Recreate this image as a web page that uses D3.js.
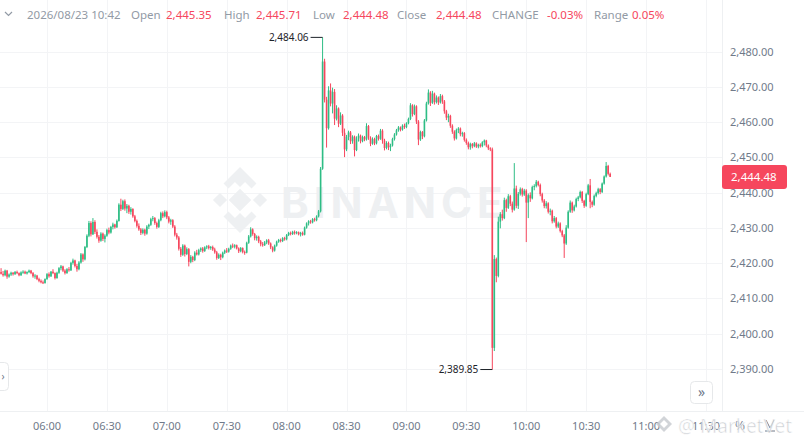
<!DOCTYPE html>
<html><head><meta charset="utf-8">
<script src="https://cdn.jsdelivr.net/npm/d3@7"></script>
<style>
html,body{margin:0;padding:0;background:#fff;}
svg{display:block;font-family:"Noto Sans",Inter,sans-serif;}
</style></head><body>
<svg id="chart" width="804" height="442"></svg>
<script>
// ---------- data ----------
const chartDate = "2026-08-23";
const firstCandle = "05:37";           // 1-minute candles
// [open, high, low, close]
const candles = [
[2417.5,2418.6,2416.8,2417.0],[2417.0,2417.8,2416.2,2416.6],[2416.6,2418.2,2416.3,2417.9],[2417.9,2418.1,2415.6,2416.2],
[2416.2,2417.1,2415.9,2416.8],[2416.8,2417.6,2416.4,2417.3],[2417.3,2417.5,2416.5,2416.9],[2416.9,2417.8,2416.7,2417.5],
[2417.5,2417.9,2416.9,2417.2],[2417.2,2417.4,2416.3,2416.6],[2416.6,2417.7,2416.4,2417.4],[2417.4,2418.0,2417.0,2417.6],
[2417.6,2417.9,2416.9,2417.1],[2417.1,2417.7,2416.8,2417.5],[2417.5,2418.2,2417.2,2417.9],[2417.9,2418.1,2416.9,2417.2],
[2417.2,2417.5,2415.9,2416.3],[2416.3,2416.9,2415.6,2416.5],[2416.5,2416.7,2415.2,2415.5],[2415.5,2415.9,2414.6,2415.0],
[2415.0,2415.4,2414.3,2414.6],[2414.6,2415.1,2414.1,2414.4],[2414.4,2415.7,2414.2,2415.5],[2415.5,2417.2,2415.3,2416.9],
[2416.9,2417.4,2415.9,2416.3],[2416.3,2417.8,2416.1,2417.6],[2417.6,2418.3,2416.9,2417.2],[2417.2,2417.4,2415.4,2415.8],
[2415.8,2417.6,2415.6,2417.3],[2417.3,2418.9,2417.0,2418.6],[2418.6,2419.5,2418.0,2419.1],[2419.1,2419.3,2417.5,2417.9],
[2417.9,2418.3,2416.8,2417.2],[2417.2,2418.6,2417.0,2418.3],[2418.3,2418.9,2417.6,2418.0],[2418.0,2420.4,2417.8,2420.1],
[2420.1,2421.3,2419.6,2420.8],[2420.8,2421.0,2418.8,2419.2],[2419.2,2419.8,2417.6,2418.3],[2418.3,2420.6,2418.0,2420.2],
[2420.2,2422.9,2419.9,2422.5],[2422.5,2422.8,2420.4,2421.1],[2421.1,2424.9,2420.8,2424.6],[2424.6,2428.2,2424.3,2427.8],
[2427.8,2432.0,2427.4,2431.4],[2431.4,2431.9,2427.6,2428.2],[2428.2,2432.8,2428.0,2431.7],[2431.7,2432.2,2428.3,2428.9],
[2428.9,2429.6,2427.0,2427.5],[2427.5,2428.0,2425.8,2426.4],[2426.4,2428.8,2426.1,2428.4],[2428.4,2428.7,2426.3,2426.9],
[2426.9,2428.2,2425.9,2427.8],[2427.8,2429.8,2427.5,2429.4],[2429.4,2430.1,2428.2,2428.7],[2428.7,2430.6,2428.4,2430.3],
[2430.3,2431.5,2429.6,2431.0],[2431.0,2431.2,2429.8,2430.2],[2430.2,2432.4,2430.0,2432.0],[2432.0,2437.0,2431.8,2436.6],
[2436.6,2438.3,2434.8,2435.4],[2435.4,2438.0,2435.1,2437.6],[2437.6,2438.1,2434.9,2435.5],[2435.5,2436.8,2434.2,2436.3],
[2436.3,2436.6,2434.0,2434.6],[2434.6,2435.9,2433.8,2435.4],[2435.4,2435.6,2432.9,2433.3],[2433.3,2433.7,2431.6,2432.0],
[2432.0,2432.4,2430.1,2430.6],[2430.6,2431.3,2429.2,2429.6],[2429.6,2430.0,2428.0,2428.6],[2428.6,2429.9,2428.2,2429.5],
[2429.5,2429.8,2427.8,2428.4],[2428.4,2430.8,2428.1,2430.4],[2430.4,2431.2,2429.7,2430.9],[2430.9,2432.9,2430.6,2432.5],
[2432.5,2433.4,2431.9,2432.8],[2432.8,2433.1,2430.9,2431.4],[2431.4,2431.8,2429.8,2430.3],[2430.3,2432.6,2430.0,2432.2],
[2432.2,2434.6,2431.9,2434.2],[2434.2,2434.7,2432.8,2433.3],[2433.3,2435.0,2433.0,2434.5],[2434.5,2434.9,2432.5,2433.0],
[2433.0,2433.4,2431.3,2431.8],[2431.8,2432.6,2430.9,2432.2],[2432.2,2432.5,2430.0,2430.4],[2430.4,2430.8,2427.6,2428.1],
[2428.1,2428.6,2426.7,2427.3],[2427.3,2427.7,2423.6,2424.1],[2424.1,2424.6,2421.8,2422.4],[2422.4,2425.4,2422.1,2425.0],
[2425.0,2425.3,2421.9,2422.6],[2422.6,2424.5,2422.3,2424.0],[2424.0,2424.3,2419.1,2420.4],[2420.4,2422.3,2420.0,2421.8],
[2421.8,2422.1,2420.3,2420.9],[2420.9,2423.4,2420.6,2423.0],[2423.0,2423.8,2422.2,2422.5],[2422.5,2424.1,2422.2,2423.7],
[2423.7,2424.5,2423.2,2424.2],[2424.2,2424.6,2423.0,2423.5],[2423.5,2424.8,2423.2,2424.5],[2424.5,2425.1,2424.0,2424.8],
[2424.8,2425.2,2423.9,2424.3],[2424.3,2424.9,2423.8,2424.6],[2424.6,2425.0,2423.5,2423.9],[2423.9,2424.4,2422.7,2423.1],
[2423.1,2423.5,2421.0,2421.5],[2421.5,2422.8,2421.2,2422.4],[2422.4,2422.7,2420.9,2421.7],[2421.7,2423.3,2421.4,2423.0],
[2423.0,2423.9,2422.6,2423.6],[2423.6,2424.3,2422.9,2423.3],[2423.3,2424.4,2423.0,2424.1],[2424.1,2425.3,2423.8,2425.0],
[2425.0,2425.6,2424.3,2424.7],[2424.7,2425.4,2424.2,2425.1],[2425.1,2425.3,2423.9,2424.2],[2424.2,2424.5,2422.9,2423.4],
[2423.4,2424.6,2423.1,2424.3],[2424.3,2424.5,2422.8,2423.2],[2423.2,2423.6,2422.4,2423.0],[2423.0,2426.1,2422.8,2425.8],
[2425.8,2428.0,2425.5,2427.6],[2427.6,2430.2,2427.3,2429.6],[2429.6,2429.9,2427.8,2428.3],[2428.3,2428.6,2426.5,2427.1],
[2427.1,2427.9,2426.4,2427.5],[2427.5,2427.8,2425.7,2426.2],[2426.2,2426.6,2424.8,2425.4],[2425.4,2426.0,2424.7,2425.1],
[2425.1,2426.3,2424.9,2425.9],[2425.9,2426.8,2425.4,2426.5],[2426.5,2426.9,2425.2,2425.6],[2425.6,2425.9,2424.0,2424.5],
[2424.5,2424.8,2423.1,2423.6],[2423.6,2425.3,2423.3,2425.0],[2425.0,2426.4,2424.7,2426.1],[2426.1,2426.9,2425.8,2426.6],
[2426.6,2427.0,2425.9,2426.3],[2426.3,2427.4,2426.0,2427.1],[2427.1,2427.5,2426.4,2426.8],[2426.8,2428.3,2426.5,2428.0],
[2428.0,2428.9,2427.7,2428.6],[2428.6,2429.0,2427.9,2428.3],[2428.3,2429.2,2428.0,2428.9],[2428.9,2429.3,2428.1,2428.5],
[2428.5,2429.1,2428.2,2428.8],[2428.8,2429.0,2427.9,2428.2],[2428.2,2428.9,2427.6,2428.6],[2428.6,2429.0,2427.8,2428.1],
[2428.1,2430.4,2427.9,2430.1],[2430.1,2431.6,2429.8,2431.3],[2431.3,2432.2,2430.7,2431.9],[2431.9,2432.3,2431.2,2431.6],
[2431.6,2432.8,2431.3,2432.5],[2432.5,2432.9,2431.8,2432.2],[2432.2,2433.6,2431.9,2433.3],[2433.3,2435.1,2433.0,2434.7],
[2434.7,2447.3,2434.4,2446.8],[2446.8,2484.06,2446.5,2477.2],[2477.2,2478.0,2465.6,2466.4],[2466.4,2467.2,2452.8,2458.3],
[2458.3,2470.2,2457.9,2469.0],[2469.0,2471.0,2464.5,2465.3],[2465.3,2469.8,2462.5,2468.6],[2468.6,2469.4,2459.2,2461.0],
[2461.0,2464.8,2460.5,2463.9],[2463.9,2464.2,2458.6,2459.6],[2459.6,2462.8,2459.2,2461.9],[2461.9,2462.3,2456.1,2457.0],
[2457.0,2458.2,2450.1,2452.3],[2452.3,2456.4,2451.8,2455.8],[2455.8,2457.6,2454.9,2457.1],[2457.1,2457.5,2453.8,2454.6],
[2454.6,2456.3,2453.9,2455.9],[2455.9,2456.2,2450.3,2452.1],[2452.1,2456.0,2451.8,2455.4],[2455.4,2456.8,2454.5,2456.2],
[2456.2,2456.5,2454.0,2454.6],[2454.6,2456.2,2454.3,2455.8],[2455.8,2456.1,2454.6,2455.1],[2455.1,2459.7,2454.8,2458.9],
[2458.9,2459.2,2455.0,2455.6],[2455.6,2456.0,2453.2,2453.9],[2453.9,2455.7,2453.6,2455.2],[2455.2,2455.6,2453.5,2454.0],
[2454.0,2456.4,2453.7,2456.1],[2456.1,2456.5,2454.8,2455.3],[2455.3,2458.1,2455.0,2457.6],[2457.6,2458.0,2453.9,2454.8],
[2454.8,2455.3,2452.0,2452.7],[2452.7,2454.6,2452.3,2454.1],[2454.1,2454.5,2452.1,2452.9],[2452.9,2453.9,2451.8,2453.4],
[2453.4,2455.6,2453.1,2455.2],[2455.2,2456.9,2454.8,2456.5],[2456.5,2458.1,2456.2,2457.7],[2457.7,2458.9,2457.3,2458.5],
[2458.5,2458.8,2457.4,2457.9],[2457.9,2459.4,2457.6,2459.0],[2459.0,2459.6,2458.1,2458.6],[2458.6,2460.0,2458.3,2459.7],
[2459.7,2461.3,2459.4,2460.9],[2460.9,2465.4,2460.6,2464.8],[2464.8,2465.1,2461.6,2462.3],[2462.3,2465.0,2462.0,2464.5],
[2464.5,2464.8,2459.5,2460.2],[2460.2,2460.6,2453.5,2455.1],[2455.1,2457.6,2454.7,2457.2],[2457.2,2457.5,2455.2,2456.0],
[2456.0,2460.9,2455.7,2460.5],[2460.5,2465.8,2460.2,2465.3],[2465.3,2469.3,2465.0,2468.4],[2468.4,2468.8,2464.6,2465.5],
[2465.5,2468.9,2465.2,2468.1],[2468.1,2468.4,2465.0,2465.7],[2465.7,2467.6,2465.3,2467.0],[2467.0,2467.3,2464.9,2465.6],
[2465.6,2468.0,2465.3,2467.4],[2467.4,2467.8,2465.2,2465.9],[2465.9,2466.3,2462.4,2463.1],[2463.1,2463.5,2460.6,2461.3],
[2461.3,2462.4,2460.0,2461.8],[2461.8,2462.1,2458.4,2459.0],[2459.0,2459.4,2456.7,2457.3],[2457.3,2457.7,2454.8,2455.4],
[2455.4,2458.2,2455.1,2457.8],[2457.8,2458.6,2456.9,2458.2],[2458.2,2458.5,2456.0,2456.6],[2456.6,2457.3,2455.9,2456.9],
[2456.9,2457.2,2454.5,2455.0],[2455.0,2455.4,2453.6,2454.1],[2454.1,2454.5,2452.3,2452.9],[2452.9,2454.2,2452.2,2453.8],
[2453.8,2454.1,2452.6,2453.2],[2453.2,2454.4,2452.9,2454.0],[2454.0,2454.3,2452.7,2453.1],[2453.1,2453.9,2452.6,2453.6],
[2453.6,2454.0,2452.8,2453.2],[2453.2,2454.6,2452.9,2454.3],[2454.3,2455.1,2453.4,2454.8],[2454.8,2455.0,2452.9,2453.4],
[2453.4,2453.7,2452.1,2452.6],[2452.6,2452.9,2451.8,2452.3],[2452.3,2452.8,2389.85,2396.0],[2396.0,2422.3,2395.1,2421.2],
[2421.2,2421.6,2414.6,2416.4],[2416.4,2433.2,2416.0,2431.8],[2431.8,2434.5,2429.9,2433.9],[2433.9,2435.2,2432.1,2432.8],
[2432.8,2438.6,2432.5,2437.9],[2437.9,2438.3,2434.6,2435.7],[2435.7,2439.6,2435.4,2439.0],[2439.0,2439.4,2436.2,2436.9],
[2436.9,2437.5,2434.4,2435.2],[2435.2,2448.4,2434.9,2441.2],[2441.2,2442.0,2435.6,2436.3],[2436.3,2440.2,2435.4,2439.7],
[2439.7,2441.5,2439.2,2441.0],[2441.0,2441.4,2438.9,2439.5],[2439.5,2441.1,2439.1,2440.6],[2440.6,2441.0,2426.0,2437.2],
[2437.2,2439.8,2432.8,2439.3],[2439.3,2440.1,2437.4,2438.4],[2438.4,2442.0,2438.1,2441.6],[2441.6,2442.4,2440.7,2441.9],
[2441.9,2443.6,2441.5,2443.1],[2443.1,2443.4,2441.8,2442.2],[2442.2,2442.6,2439.0,2439.6],[2439.6,2440.0,2437.2,2437.8],
[2437.8,2438.2,2435.6,2436.2],[2436.2,2437.6,2435.5,2437.0],[2437.0,2437.3,2434.1,2434.6],[2434.6,2435.5,2433.6,2434.9],
[2434.9,2435.2,2431.3,2431.9],[2431.9,2433.4,2431.5,2432.8],[2432.8,2433.1,2429.9,2430.4],[2430.4,2431.8,2430.0,2431.3],
[2431.3,2431.6,2428.7,2429.1],[2429.1,2429.5,2427.4,2427.9],[2427.9,2428.3,2421.5,2425.6],[2425.6,2430.8,2425.2,2430.1],
[2430.1,2435.0,2429.8,2434.6],[2434.6,2437.8,2434.3,2437.2],[2437.2,2437.5,2434.3,2435.0],[2435.0,2436.6,2434.7,2436.1],
[2436.1,2438.6,2435.8,2438.2],[2438.2,2439.1,2437.6,2438.7],[2438.7,2440.6,2438.4,2440.2],[2440.2,2440.5,2437.1,2437.7],
[2437.7,2438.0,2435.7,2436.3],[2436.3,2440.0,2436.0,2439.6],[2439.6,2442.5,2439.3,2442.1],[2442.1,2443.9,2435.6,2437.4],
[2437.4,2437.8,2435.9,2436.6],[2436.6,2439.5,2436.3,2439.1],[2439.1,2440.3,2438.7,2439.9],[2439.9,2441.4,2439.5,2441.0],
[2441.0,2441.3,2439.6,2440.2],[2440.2,2442.9,2439.9,2442.6],[2442.6,2444.9,2442.3,2444.6],[2444.6,2448.7,2444.3,2447.6],
[2447.6,2447.9,2444.9,2445.35],[2445.35,2445.71,2444.48,2444.48]
];
const priceTicks = [2390, 2400, 2410, 2420, 2430, 2440, 2450, 2460, 2470, 2480];
const timeTicks = ["06:00","06:30","07:00","07:30","08:00","08:30","09:00","09:30","10:00","10:30","11:00","11:30"];
const headerDate = "2026/08/23 10:42";
const headerLabels = ["Open","High","Low","Close","CHANGE","Range"];
const headerValues = ["2,445.35","2,445.71","2,444.48","2,444.48","-0.03%","0.05%"];
const lastPrice = 2444.48;

// ---------- layout ----------
const W = 804, H = 442, plotRight = 722, plotBottom = 411;
const UP = "#2EBD85", DOWN = "#F6465D", GRID = "#F3F4F6", AXIS = "#707A8A";
const svg = d3.select("#chart");
const parse = d3.timeParse("%Y-%m-%d %H:%M");
const t0 = parse(chartDate + " " + firstCandle);

const x = d3.scaleTime()
  .domain([parse(chartDate + " 06:00"), parse(chartDate + " 11:30")])
  .range([47, 706]);
const y = d3.scaleLinear().domain([2390, 2480]).range([369, 51.7]);

const fmt = d3.format(",.2f");

// grid
const grid = svg.append("g");
grid.selectAll("line.h").data(priceTicks).join("line")
  .attr("x1", 0).attr("x2", plotRight)
  .attr("y1", d => Math.round(y(d)) + 0.5).attr("y2", d => Math.round(y(d)) + 0.5)
  .attr("stroke", GRID);
grid.selectAll("line.v").data(timeTicks).join("line")
  .attr("x1", d => Math.round(x(parse(chartDate + " " + d))) + 0.5)
  .attr("x2", d => Math.round(x(parse(chartDate + " " + d))) + 0.5)
  .attr("y1", 0).attr("y2", plotBottom)
  .attr("stroke", GRID);

// Binance watermark
const wm = svg.append("g").attr("fill", "#EEF0F2");
const lc = [240, 200];
[[0,0,8],[-20,0,5],[20,0,5],[0,-20,5],[0,20,5]].forEach(([dx,dy,s]) => {
  wm.append("rect").attr("x", lc[0]+dx-s).attr("y", lc[1]+dy-s).attr("width", 2*s).attr("height", 2*s)
    .attr("transform", `rotate(45 ${lc[0]+dx} ${lc[1]+dy})`);
});
wm.append("path").attr("fill","none").attr("stroke","#EEF0F2").attr("stroke-width",7)
  .attr("d", `M${lc[0]-14},${lc[1]-14} L${lc[0]},${lc[1]-28} L${lc[0]+14},${lc[1]-14} M${lc[0]-14},${lc[1]+14} L${lc[0]},${lc[1]+28} L${lc[0]+14},${lc[1]+14}`);
wm.append("text").attr("x", 281).attr("y", 218).attr("font-size", 42).attr("font-weight", 700)
  .attr("letter-spacing", 5).attr("font-family", "Inter, 'Noto Sans', sans-serif").text("BINANCE");

// candles
const cg = svg.append("g");
const cw = 1.6;
const cs = cg.selectAll("g").data(candles).join("g")
  .attr("transform", (d, i) => `translate(${x(d3.timeMinute.offset(t0, i))},0)`);
cs.append("line")
  .attr("y1", d => y(d[1])).attr("y2", d => y(d[2]))
  .attr("stroke", d => d[3] >= d[0] ? UP : DOWN).attr("stroke-width", 1);
cs.append("rect")
  .attr("x", -cw / 2).attr("width", cw)
  .attr("y", d => y(Math.max(d[0], d[3])))
  .attr("height", d => Math.max(1, Math.abs(y(d[0]) - y(d[3]))))
  .attr("fill", d => d[3] >= d[0] ? UP : DOWN);

// high / low markers
const hiI = d3.maxIndex(candles, d => d[1]);
const loI = d3.minIndex(candles, d => d[2]);
[[hiI, candles[hiI][1]], [loI, candles[loI][2]]].forEach(([i, v]) => {
  const cx = x(d3.timeMinute.offset(t0, i));
  svg.append("line").attr("x1", cx - 12).attr("x2", cx).attr("y1", y(v)).attr("y2", y(v))
    .attr("stroke", "#1E2329").attr("stroke-width", 1);
  svg.append("text").attr("x", cx - 14).attr("y", y(v) + 3.5).attr("text-anchor", "end")
    .attr("font-size", 10).attr("fill", "#1E2329").text(fmt(v));
});

// right axis
svg.append("line").attr("x1", plotRight + 0.5).attr("x2", plotRight + 0.5).attr("y1", 0).attr("y2", plotBottom)
  .attr("stroke", "#EEF0F2");
svg.append("g").selectAll("text").data(priceTicks).join("text")
  .attr("x", 730).attr("y", d => y(d) + 4).attr("font-size", 11).attr("fill", AXIS)
  .text(d => fmt(d));

// last price tag
svg.append("rect").attr("x", plotRight).attr("y", y(lastPrice) - 12).attr("width", 65).attr("height", 24)
  .attr("rx", 3).attr("fill", DOWN);
svg.append("text").attr("x", 731).attr("y", y(lastPrice) + 4).attr("font-size", 11.5).attr("fill", "#fff")
  .text(fmt(lastPrice));

// bottom axis
svg.append("line").attr("x1", 0).attr("x2", W).attr("y1", plotBottom + 0.5).attr("y2", plotBottom + 0.5)
  .attr("stroke", "#EEF0F2");
svg.append("g").selectAll("text").data(timeTicks).join("text")
  .attr("x", d => x(parse(chartDate + " " + d))).attr("y", 430).attr("text-anchor", "middle")
  .attr("font-size", 11).attr("fill", AXIS).text(d => d);
svg.append("text").attr("x", 735).attr("y", 430).attr("font-size", 12).attr("fill", AXIS).text("%");
svg.append("path").attr("d", "M766,420 L770,428 L774,420 M765,431 L775,431").attr("fill","none")
  .attr("stroke", AXIS).attr("stroke-width", 1);

// buttons
svg.append("rect").attr("x", 690.5).attr("y", 381.5).attr("width", 22).attr("height", 22).attr("rx", 4)
  .attr("fill", "#fff").attr("stroke", "#E6E8EA");
svg.append("text").attr("x", 701.5).attr("y", 397).attr("text-anchor", "middle").attr("font-size", 14)
  .attr("fill", AXIS).text("»");
svg.append("rect").attr("x", -4.5).attr("y", 362.5).attr("width", 13).attr("height", 28).attr("rx", 4)
  .attr("fill", "#fff").attr("stroke", "#E6E8EA");
svg.append("text").attr("x", 3).attr("y", 380).attr("text-anchor", "middle").attr("font-size", 10)
  .attr("fill", AXIS).text("›");

// MarketVet watermark
const mv = svg.append("g").attr("opacity", 0.85);
mv.append("path").attr("d", "M664,416 L672,424 L664,432 L656,424 Z M664,420 L668,424 L664,428 L660,424 Z")
  .attr("fill", "#C9CDD2").attr("fill-rule", "evenodd");
mv.append("text").attr("x", 678).attr("y", 433).attr("font-size", 19).attr("fill", "#C4C8CD")
  .attr("stroke", "#fff").attr("stroke-width", 0.6).text("@ MarketVet");

// header
const hdr = svg.append("g").attr("font-size", 11.5);
hdr.append("path").attr("d", "M5,12 L8.5,15.5 L12,12").attr("fill", "none").attr("stroke", "#929AA5").attr("stroke-width", 1.2);
const labelX = [131, 224, 313, 397, 492, 594];
const valueX = [166, 256, 343, 436, 547, 632];
hdr.append("text").attr("x", 27).attr("y", 19).attr("fill", "#929AA5").text(headerDate);
hdr.selectAll("text.l").data(headerLabels).join("text").attr("class", "l")
  .attr("x", (d, i) => labelX[i]).attr("y", 19).attr("fill", "#929AA5").text(d => d);
hdr.selectAll("text.v").data(headerValues).join("text").attr("class", "v")
  .attr("x", (d, i) => valueX[i]).attr("y", 19).attr("fill", DOWN).text(d => d);
</script>
</body></html>
